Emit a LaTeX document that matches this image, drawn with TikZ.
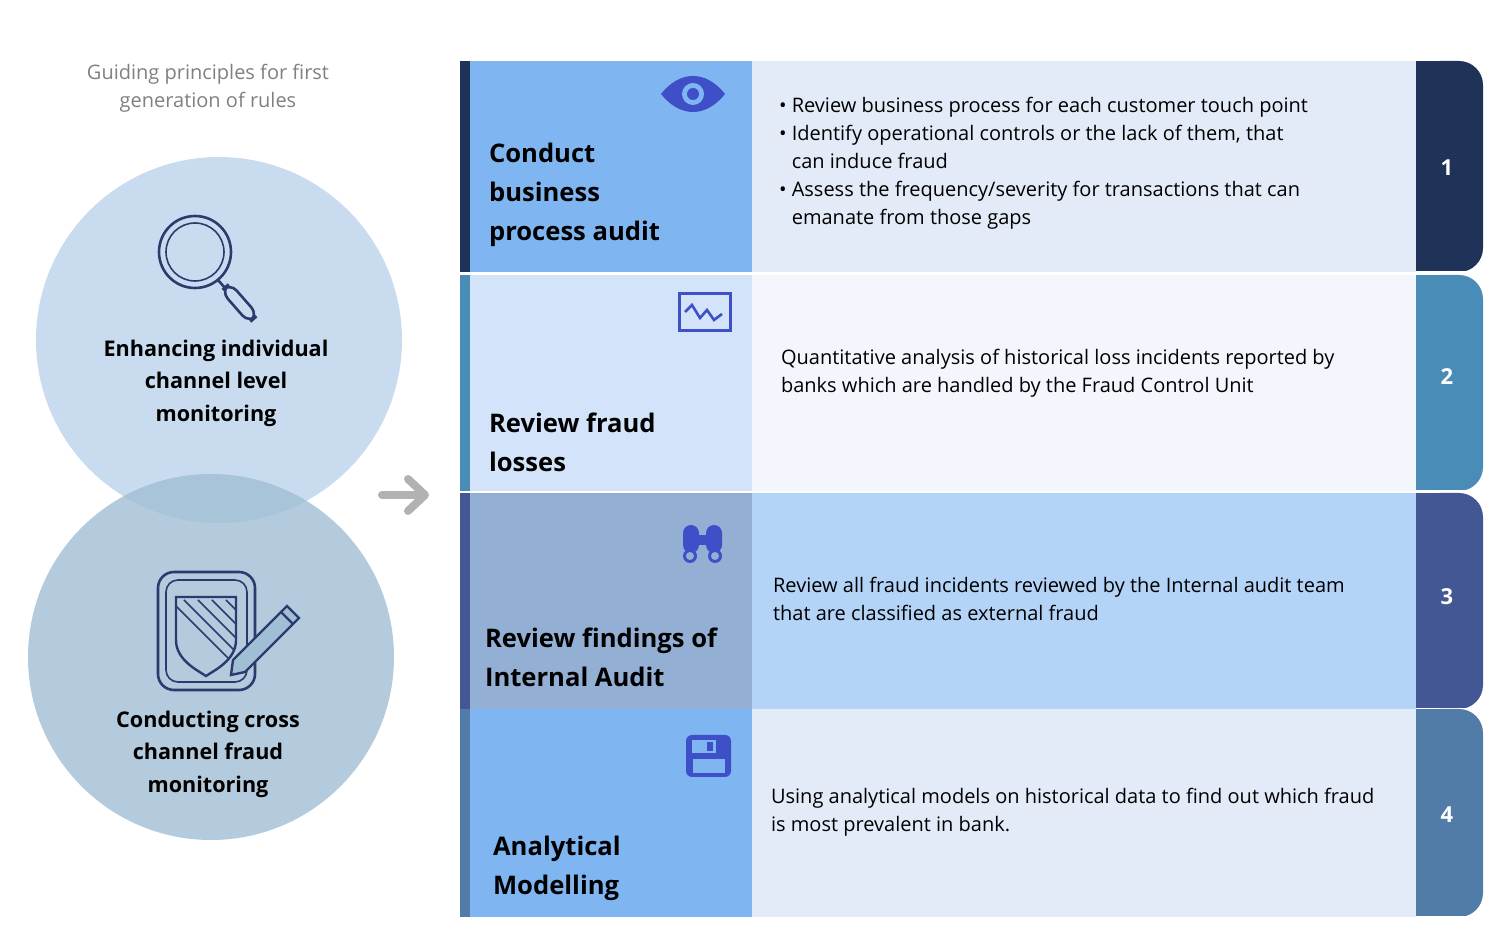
\documentclass[tikz,border=0pt]{standalone}
\usepackage{fontspec}
\setmainfont{Open Sans}
\usetikzlibrary{arrows.meta}
\definecolor{cA}{HTML}{7FB5F0}\definecolor{dA}{HTML}{E4EBF8}\definecolor{tA}{HTML}{1F3358}
\definecolor{cB}{HTML}{D3E4FA}\definecolor{dB}{HTML}{F3F6FC}\definecolor{tB}{HTML}{4A8CB8}
\definecolor{cC}{HTML}{93AFD4}\definecolor{dC}{HTML}{B3D3F7}\definecolor{tC}{HTML}{435795}
\definecolor{tD}{HTML}{527CA8}
\definecolor{icon}{HTML}{3F4FC8}\definecolor{navy}{HTML}{2E3A6E}
\definecolor{circA}{HTML}{C9DCEF}\definecolor{circB}{HTML}{A0BED4}
\tikzset{lbl/.style={anchor=west,font=\bfseries\fontsize{12.8}{19.5}\selectfont,align=left,text=black},
desc/.style={anchor=west,font=\fontsize{10}{14}\selectfont,align=left,text=black},
num/.style={font=\bfseries\fontsize{11}{13}\selectfont,text=white}}
\begin{document}
\begin{tikzpicture}[x=0.5pt,y=-0.5pt]
\useasboundingbox (0,0) rectangle (1500,945);
\node[font=\fontsize{10}{14}\selectfont,text=gray,align=center] (t) at (208,88) {Guiding principles for first\\generation of rules};
% circles
\fill[circA] (219,340) circle (183);
\fill[circB,opacity=0.8] (211,657) circle (183);
\node[font=\bfseries\fontsize{10.8}{16.2}\selectfont,align=center] (c1) at (216,383) {Enhancing individual\\channel level\\monitoring};
\node[font=\bfseries\fontsize{10.8}{16.2}\selectfont,align=center] (c2) at (208,754) {Conducting cross\\channel fraud\\monitoring};
% magnifier
\draw[navy,line width=1.3pt] (195,252) circle (36);\draw[navy,line width=0.8pt] (195,252) circle (29);
\draw[navy,line width=1.3pt] (218,280)--(225,288);
\draw[navy,line width=1.3pt,rounded corners=5] (221,291)--(230,283)--(258,315)--(249,323)--cycle;
% document with shield
\draw[navy,line width=1.3pt,rounded corners=8] (158,572) rectangle (255,690);
\draw[navy,line width=0.8pt,rounded corners=6] (166,580) rectangle (247,682);
\draw[navy,line width=1.2pt] (176,597)--(236,597)--(236,640)..controls (236,660) and (215,670) .. (206,676) .. controls (197,670) and (176,660) .. (176,640)--cycle;
\begin{scope}\clip (176,597)--(236,597)--(236,640)..controls (236,660) and (215,670) .. (206,676) .. controls (197,670) and (176,660) .. (176,640)--cycle;
\foreach \i in {0,14,28,42,56} \draw[navy,line width=0.8pt] (170+\i,600)--(230+\i,660);
\end{scope}
\draw[navy,line width=1.2pt,fill=circB] (233,660)--(287,606)--(299,618)--(245,672)--(231,675)--cycle;
\draw[navy,line width=1.2pt] (281,612)--(293,624);
% arrow
\draw[gray!60,line width=4pt,line cap=round] (382,495)--(420,495);
\draw[gray!60,line width=4pt,line cap=round,line join=round] (408,479)--(425,495)--(408,511);
% rows
\foreach \ya/\yb/\cl/\cd/\ct in {61/272/cA/dA/tA, 275/491/cB/dB/tB, 493/709/cC/dC/tC, 709/917/cA/dA/tD}{
 \fill[\ct] (460,\ya) rectangle (470,\yb);
 \fill[\cl] (470,\ya) rectangle (752,\yb);
 \fill[\cd] (752,\ya) rectangle (1416,\yb);
 \fill[\ct,rounded corners=12] (1416,\ya) rectangle (1483,\yb);
 \fill[\ct] (1416,\ya) rectangle (1440,\yb);
 \draw[white,line width=1pt] (1416,\yb)--(1483,\yb);
}
\fill[white] (470,272) rectangle (1416,275);
\node[num] (n1) at (1447,168) {1};
\node[num] (n2) at (1447,377) {2};
\node[num] (n3) at (1447,597) {3};
\node[num] (n4) at (1447,815) {4};
\node[lbl] (l1) at (482,195) {Conduct\\business\\process audit};
\node[lbl] (l2) at (482,442) {Review fraud\\losses};
\node[lbl] (l3) at (478,657) {Review findings of\\Internal Audit};
\node[lbl] (l4) at (486,868) {Analytical\\Modelling};
\node[desc,anchor=north west] (d1) at (772,90) {\textbullet\ Review business process for each customer touch point\\\textbullet\ Identify operational controls or the lack of them, that\\\phantom{\textbullet\ }can induce fraud\\\textbullet\ Assess the frequency/severity for transactions that can\\\phantom{\textbullet\ }emanate from those gaps};
\node[desc] (d2) at (774,373) {Quantitative analysis of historical loss incidents reported by\\banks which are handled by the Fraud Control Unit};
\node[desc] (d3) at (766,599) {Review all fraud incidents reviewed by the Internal audit team\\that are classified as external fraud};
\node[desc] (d4) at (764,812) {Using analytical models on historical data to find out which fraud\\is most prevalent in bank.};
% eye
\fill[icon] (661,94) .. controls (680,70) and (706,70) .. (725,94) .. controls (706,118) and (680,118) .. (661,94);
\fill[cA] (693,94) circle (11);\fill[icon] (693,94) circle (6);
% chart
\draw[icon,line width=1.5pt] (679,294) rectangle (730,331);
\draw[icon,line width=1.3pt] (685,312)--(692,305)--(700,318)--(707,310)--(714,320)--(722,314);
% binoculars
\fill[icon,rounded corners=4] (683,525) rectangle (699,553);\fill[icon,rounded corners=4] (706,525) rectangle (722,553);
\fill[icon] (697,535) rectangle (708,545);
\fill[icon] (690,556) circle (7);\fill[icon] (715,556) circle (7);
\fill[cC] (690,556) circle (4);\fill[cC] (715,556) circle (4);
% floppy
\fill[icon,rounded corners=3] (686,735) rectangle (731,777);
\fill[cA] (692,740) rectangle (716,753);\fill[icon] (707,742) rectangle (713,751);
\fill[cA] (693,759) rectangle (725,773);
\end{tikzpicture}
\end{document}
